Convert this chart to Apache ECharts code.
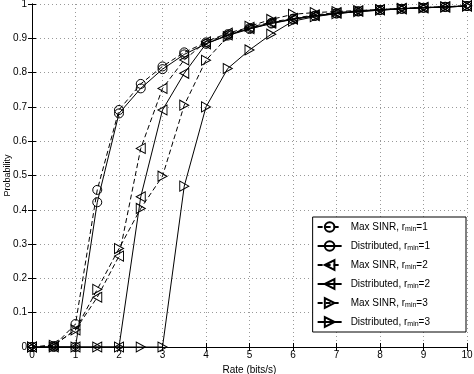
<!DOCTYPE html>
<html>
<head>
<meta charset="utf-8">
<script src="https://cdn.jsdelivr.net/npm/echarts@6/dist/echarts.min.js"></script>
<style>
html,body{margin:0;padding:0;background:#fff;}
#c{width:474px;height:374px;}
</style>
</head>
<body>
<div id="c"></div>
<script>
// Rate values (bits/s)
const rates = [0,0.5,1,1.5,2,2.5,3,3.5,4,4.5,5,5.5,6,6.5,7,7.5,8,8.5,9,9.5,10];
const xTicks = [0,1,2,3,4,5,6,7,8,9,10];
const yTicks = [0,0.1,0.2,0.3,0.4,0.5,0.6,0.7,0.8,0.9,1];

const seriesNames = [
  'Max SINR, r_min=1',
  'Distributed, r_min=1',
  'Max SINR, r_min=2',
  'Distributed, r_min=2',
  'Max SINR, r_min=3',
  'Distributed, r_min=3'
];

const maxSinr1 = [0,0.003,0.067,0.458,0.691,0.767,0.818,0.859,0.888,0.912,0.930,0.945,0.957,0.966,0.973,0.979,0.983,0.986,0.989,0.992,0.994];
const distr1   = [0,0,0,0.422,0.681,0.754,0.810,0.853,0.884,0.908,0.927,0.943,0.955,0.965,0.972,0.978,0.982,0.986,0.989,0.991,0.994];
const maxSinr2 = [0,0.005,0.050,0.145,0.265,0.579,0.754,0.837,0.890,0.915,0.932,0.947,0.958,0.968,0.975,0.980,0.984,0.987,0.990,0.992,0.995];
const distr2   = [0,0,0,0,0,0.438,0.691,0.798,0.884,0.910,0.928,0.944,0.956,0.966,0.973,0.979,0.983,0.986,0.989,0.991,0.994];
const maxSinr3 = [0,0.005,0.050,0.168,0.287,0.404,0.498,0.705,0.836,0.905,0.935,0.955,0.970,0.975,0.978,0.981,0.984,0.987,0.990,0.992,0.995];
const distr3   = [0,0,0,0,0,0,0,0.469,0.700,0.812,0.866,0.912,0.950,0.963,0.972,0.978,0.982,0.986,0.989,0.991,0.994];

const allData = [maxSinr1, distr1, maxSinr2, distr2, maxSinr3, distr3];
const FONT = 'Liberation Sans, Arial, Helvetica, sans-serif';

const symCircle = 'circle';
const symLeft = 'path://M0,5 L10,0 L10,10 Z';
const symRight = 'path://M10,5 L0,0 L0,10 Z';
const symbols = [symCircle, symCircle, symLeft, symLeft, symRight, symRight];
const dashed = [true, false, true, false, true, false];

const series = allData.map((vals, i) => ({
  name: seriesNames[i],
  type: 'line',
  data: rates.map((r, k) => [r, vals[k]]),
  symbol: symbols[i],
  symbolSize: i < 2 ? 9 : [9, 10],
  showAllSymbol: true,
  clip: false,
  animation: false,
  lineStyle: { color: '#000', width: 1, type: dashed[i] ? [5, 3] : 'solid' },
  itemStyle: { color: 'rgba(0,0,0,0)', borderColor: '#000', borderWidth: 1 },
  emphasis: { disabled: true }
}));

const chart = echarts.init(document.getElementById('c'), null, { renderer: 'canvas' });
chart.setOption({
  backgroundColor: '#fff',
  animation: false,
  textStyle: { fontFamily: FONT },
  grid: { left: 32, right: 7, top: 4, bottom: 27, containLabel: false, outerBoundsMode: 'none' },
  legend: {
    orient: 'vertical',
    right: 8,
    bottom: 42,
    backgroundColor: '#fff',
    borderColor: '#000',
    borderWidth: 1,
    borderRadius: 0,
    padding: [4, 36, 4, 4],
    itemWidth: 24,
    itemHeight: 12,
    itemGap: 7,
    data: seriesNames,
    formatter: function (name) {
      const parts = name.split('r_min');
      return '{a|' + parts[0] + 'r}{s|min}{a|' + parts[1] + '}';
    },
    textStyle: {
      fontFamily: FONT,
      color: '#000',
      padding: [0, 0, 0, 4],
      rich: {
        a: { fontSize: 10, fontFamily: FONT, color: '#000', lineHeight: 12 },
        s: { fontSize: 7, fontFamily: FONT, color: '#000', lineHeight: 12, verticalAlign: 'bottom', padding: [5, 0, 0, 0] }
      }
    }
  },
  xAxis: [{
    type: 'value', min: 0, max: 10, interval: 1,
    name: 'Rate (bits/s)', nameLocation: 'middle', nameGap: 18, nameMoveOverlap: false,
    nameTextStyle: { fontSize: 10, color: '#000', fontFamily: FONT },
    axisLine: { show: true, lineStyle: { color: '#000', width: 1 } },
    axisTick: { show: true, inside: true, length: 4, lineStyle: { color: '#000' } },
    axisLabel: { fontSize: 10, color: '#000', margin: 3, fontFamily: FONT },
    splitLine: { show: true, lineStyle: { color: '#999', type: [1, 3], width: 1 } }
  }, {
    type: 'value', min: 0, max: 10, interval: 1, position: 'top',
    axisLine: { show: true, lineStyle: { color: '#000', width: 1 } },
    axisTick: { show: true, inside: true, length: 4, lineStyle: { color: '#000' } },
    axisLabel: { show: false },
    splitLine: { show: false }
  }],
  yAxis: [{
    type: 'value', min: 0, max: 1, interval: 0.1,
    name: 'Probability', nameLocation: 'middle', nameGap: 20, nameMoveOverlap: false,
    nameTextStyle: { fontSize: 9, color: '#000', fontFamily: FONT },
    axisLine: { show: true, lineStyle: { color: '#000', width: 1 } },
    axisTick: { show: true, inside: true, length: 4, lineStyle: { color: '#000' } },
    axisLabel: { fontSize: 10, color: '#000', margin: 5, fontFamily: FONT,
      formatter: v => String(Math.round(v * 10) / 10) },
    splitLine: { show: true, lineStyle: { color: '#999', type: [1, 3], width: 1 } }
  }, {
    type: 'value', min: 0, max: 1, interval: 0.1, position: 'right',
    axisLine: { show: true, lineStyle: { color: '#000', width: 1 } },
    axisTick: { show: true, inside: true, length: 4, lineStyle: { color: '#000' } },
    axisLabel: { show: false },
    splitLine: { show: false }
  }],
  series: series
});
</script>
</body>
</html>
